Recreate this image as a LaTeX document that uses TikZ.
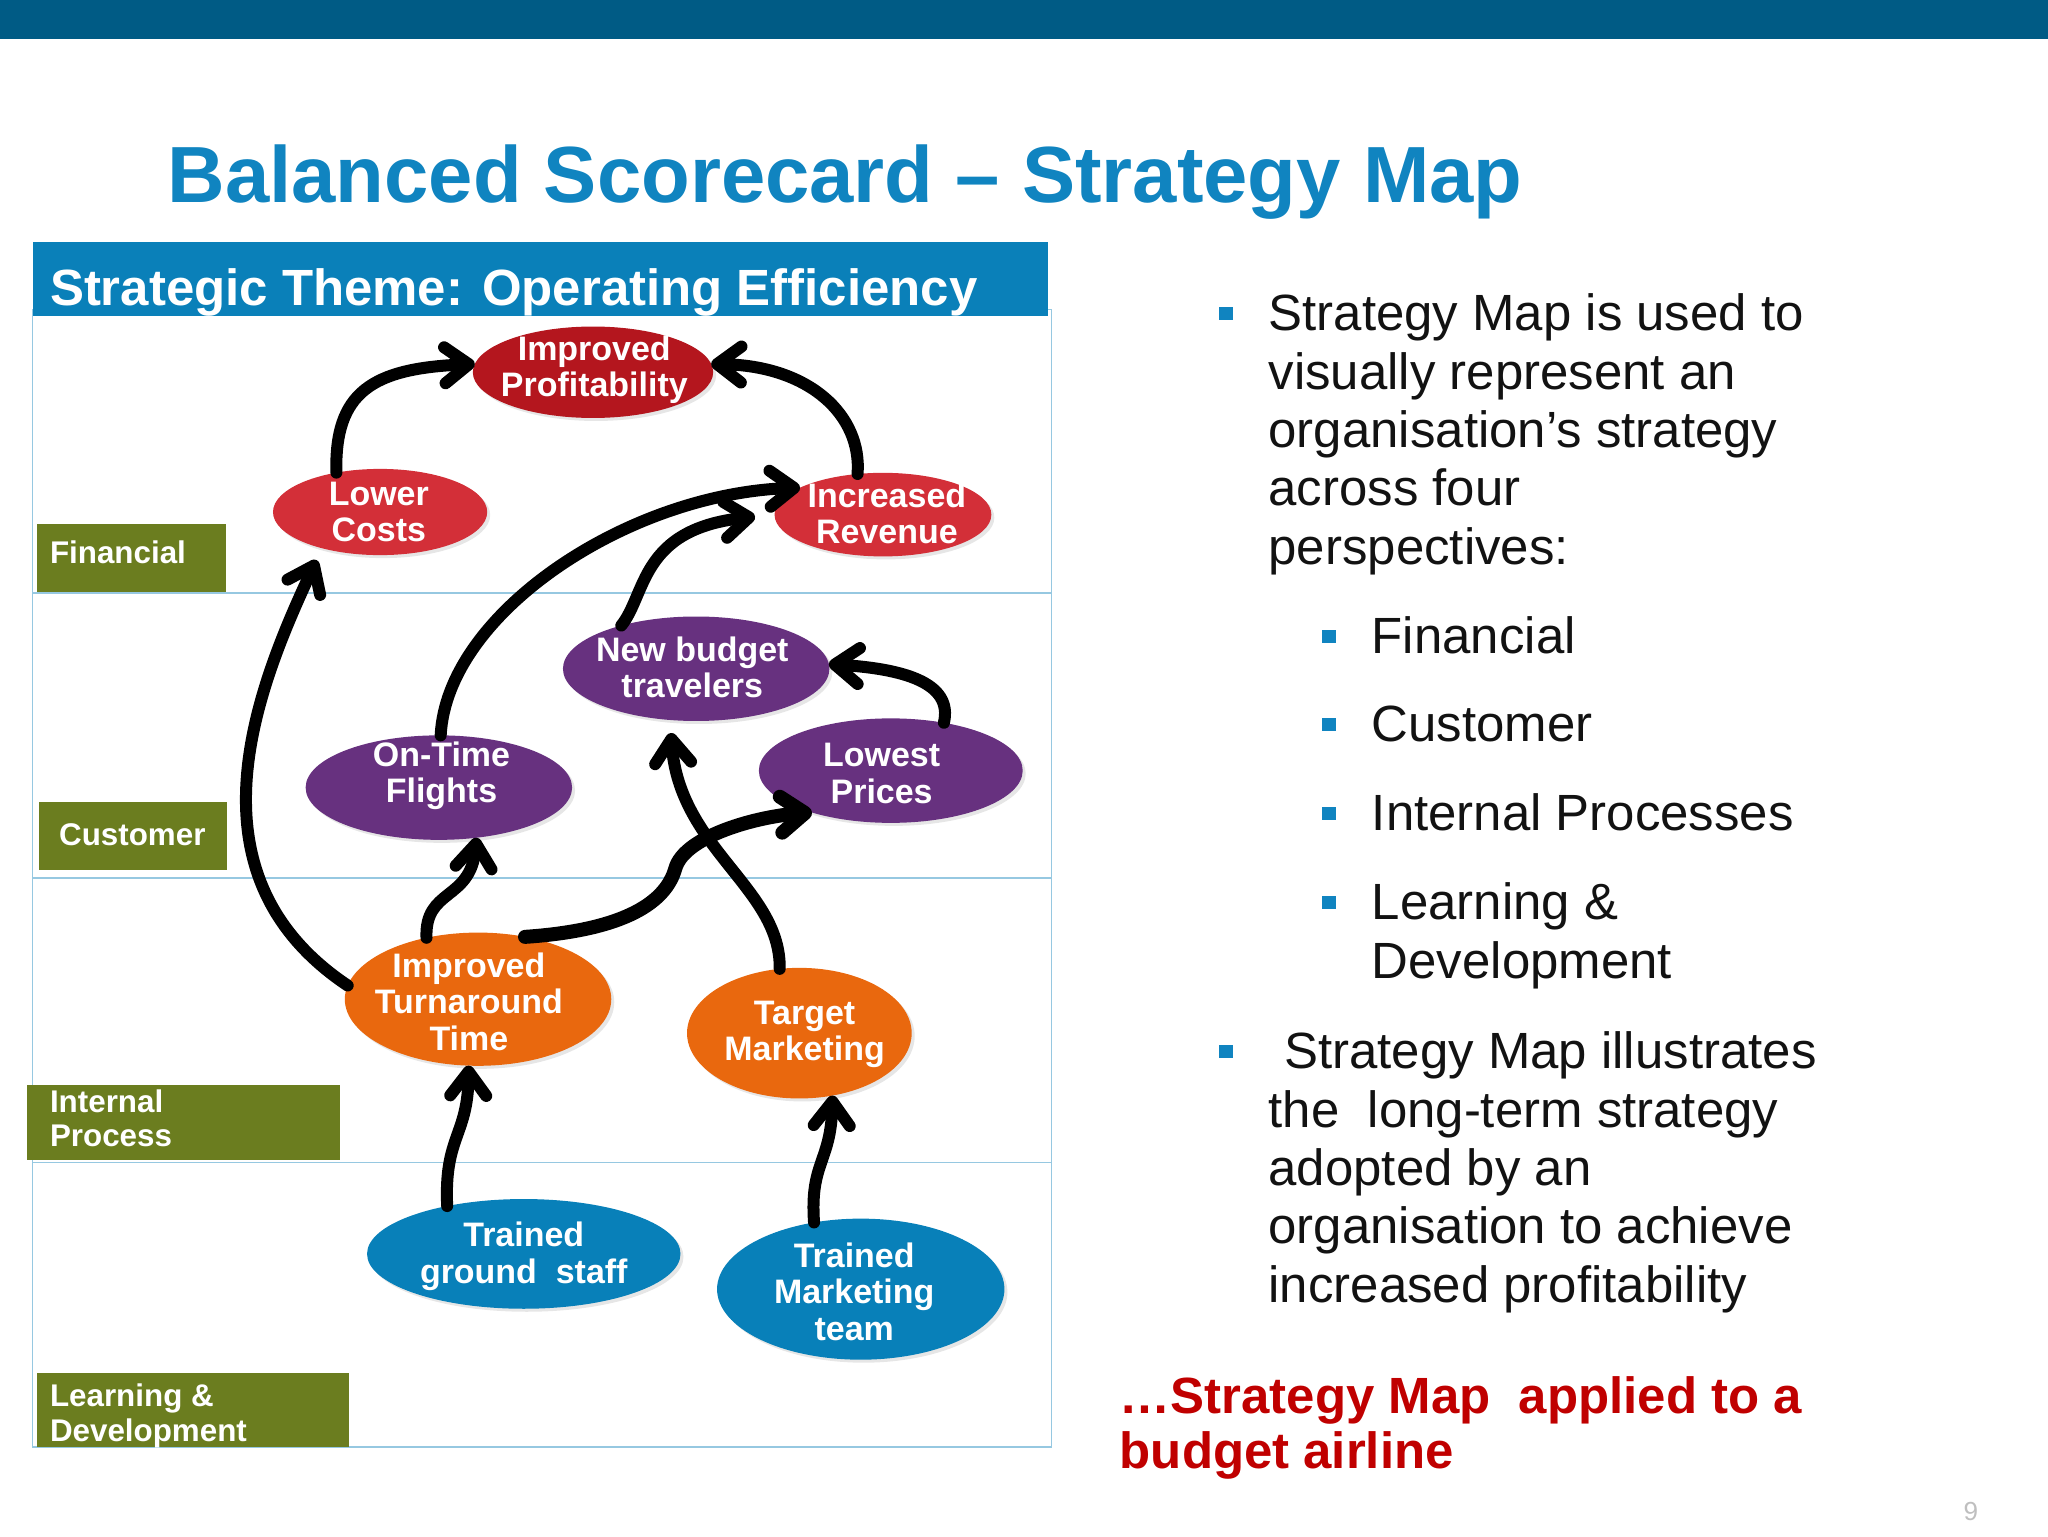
\documentclass[tikz,border=0pt]{standalone}
\usepackage{fontspec}
\setmainfont{Liberation Sans}
\usetikzlibrary{arrows.meta,shapes.geometric,shadows}
\newlength\pxu
\setlength\pxu{0.65306pt}
\definecolor{topbar}{RGB}{0,91,133}
\definecolor{titleblue}{RGB}{16,132,192}
\definecolor{themeblue}{RGB}{10,128,185}
\definecolor{olive}{RGB}{107,125,31}
\definecolor{framec}{RGB}{150,200,225}
\definecolor{darkred}{RGB}{180,22,30}
\definecolor{mred}{RGB}{211,47,56}
\definecolor{mpurple}{RGB}{103,49,127}
\definecolor{morange}{RGB}{233,104,14}
\definecolor{mblue}{RGB}{8,128,185}
\definecolor{redtext}{RGB}{192,0,0}
\tikzset{
  ell/.style={ellipse, inner sep=0, outer sep=0, draw=none,
    drop shadow={opacity=0.2, shadow xshift=1.5pt, shadow yshift=-1.5pt}},
  etext/.style={text=white, font=\bfseries\fontsize{26\pxu}{28\pxu}\selectfont, align=center, inner sep=0},
  lab/.style={fill=olive},
  labtext/.style={text=white, font=\bfseries\fontsize{24\pxu}{26\pxu}\selectfont, align=left, inner sep=0},
  rtext/.style={font=\fontsize{39\pxu}{44.75\pxu}\selectfont, align=left, inner sep=0, text=black!93},
  bul/.style={fill=titleblue},
  conn/.style={draw=black, line cap=round, line join=round, -{Straight Barb[length=12pt,width=18pt,round]}, line width=6pt}
}
\begin{document}
\begin{tikzpicture}[x=0.65306pt, y=-0.65306pt]
\useasboundingbox (0,0) rectangle (1568,1176);
% top bar and title
\fill[topbar] (0,0) rectangle (1568,30);
\node[anchor=base west, inner sep=0, text=titleblue, font=\bfseries\fontsize{61\pxu}{70\pxu}\selectfont] (title) at (128,155) {Balanced Scorecard – Strategy Map};
% frame
\draw[framec, line width=1.2\pxu] (25,237) rectangle (805,1108);
\draw[framec, line width=1.2\pxu] (25,454) -- (805,454);
\draw[framec, line width=1.2\pxu] (25,672) -- (805,672);
\draw[framec, line width=1.2\pxu] (25,890) -- (805,890);
\fill[themeblue] (25,185) rectangle (802,242);
\node[anchor=base west, inner sep=0, text=white, font=\bfseries\fontsize{39\pxu}{44\pxu}\selectfont] (theme) at (38,234) {Strategic Theme: Operating Efficiency};
% perspective labels
\fill[lab] (28,401) rectangle (173,453);
\node[labtext, anchor=base west] (lfin) at (38,431.5) {Financial};
\fill[lab] (30,614) rectangle (174,666);
\node[labtext, anchor=base west] (lcus) at (45,647.5) {Customer};
\fill[lab] (21,831) rectangle (260,888);
\node[labtext, anchor=north west] (lint) at (38,833.3) {\strut Internal\\\strut Process};
\fill[lab] (28,1051) rectangle (267,1108);
\node[labtext, anchor=north west, font=\bfseries\fontsize{24\pxu}{27\pxu}\selectfont] (llrn) at (38,1057.6) {\strut Learning \&\\\strut Development};
% ellipses
\node[ell, fill=darkred, minimum width=184\pxu, minimum height=70\pxu] (ip) at (454,285) {};
\node[ell, fill=mred, minimum width=164\pxu, minimum height=66\pxu] (lc) at (291,392) {};
\node[ell, fill=mred, minimum width=166\pxu, minimum height=64\pxu] (ir) at (676,394) {};
\node[ell, fill=mpurple, minimum width=204\pxu, minimum height=80\pxu] (nbt) at (533,512) {};
\node[ell, fill=mpurple, minimum width=204\pxu, minimum height=80\pxu] (otf) at (336,603) {};
\node[ell, fill=mpurple, minimum width=202\pxu, minimum height=80\pxu] (lp) at (682,590) {};
\node[ell, fill=morange, minimum width=204\pxu, minimum height=102\pxu] (itt) at (366,765) {};
\node[ell, fill=morange, minimum width=172\pxu, minimum height=100\pxu] (tm) at (612,791) {};
\node[ell, fill=mblue, minimum width=240\pxu, minimum height=84\pxu] (tgs) at (401,960) {};
\node[ell, fill=mblue, minimum width=220\pxu, minimum height=108\pxu] (tmt) at (659,987) {};
% connectors
\draw[conn] (lc.138) .. controls (256,300) and (285,282) .. (ip.176);
\draw[conn] (ir.122) .. controls (660,318) and (620,280) .. (ip.4);
\draw[conn] (otf.88) .. controls (342,470) and (480,378) .. (ir.162);
\draw[conn, shorten >=15\pxu] (nbt.150) .. controls (495,455) and (490,405) .. (ir.west);
\draw[conn, shorten >=10\pxu] (itt.174) .. controls (140,670) and (195,530) .. (lc.212);
\draw[conn] (itt.130) .. controls (325,680) and (360,690) .. (otf.307);
\draw[conn, line width=7pt] (itt.53) .. controls (480,712) and (510,690) .. (517,665) .. controls (524,640) and (580,625) .. (lp.208);
\draw[conn, shorten >=10\pxu] (tm.107) .. controls (598,680) and (520,650) .. (nbt.243);
\draw[conn] (lp.42) .. controls (730,522) and (690,512) .. (nbt.2);
\draw[conn] (tgs.148) .. controls (340,870) and (358,870) .. (itt.262);
\draw[conn] (tmt.125) .. controls (620,890) and (636,890) .. (tm.298);
% ellipse texts
\node[etext] (ip-t) at (455,283) {Improved\\Profitability};
\node[etext] (lc-t) at (290,392) {Lower\\Costs};
\node[etext] (ir-t) at (679,393) {Increased\\Revenue};
\node[etext] (nbt-t) at (530,511) {New budget\\travelers};
\node[etext] (otf-t) at (338,594) {On-Time\\Flights};
\node[etext] (lp-t) at (675,592) {Lowest\\Prices};
\node[etext] (itt-t) at (359,767) {Improved\\Turnaround\\Time};
\node[etext] (tm-t) at (616,792) {Target\\Marketing};
\node[etext] (tgs-t) at (401,962) {Trained\\ground\ \ staff};
\node[etext] (tmt-t) at (654,989) {Trained\\Marketing\\team};
% right text
\fill[bul] (933,235) rectangle (944,245);
\node[rtext, anchor=north west] (b1) at (971,221.5) {\strut Strategy Map is used to\\\strut visually represent an\\\strut organisation’s strategy\\\strut across four\\\strut perspectives:};
\fill[bul] (1012,482) rectangle (1023,492);
\node[rtext, anchor=base west] (s1) at (1050,500) {Financial};
\fill[bul] (1012,550) rectangle (1023,560);
\node[rtext, anchor=base west] (s2) at (1050,568) {Customer};
\fill[bul] (1012,618) rectangle (1023,628);
\node[rtext, anchor=base west] (s3) at (1050,636) {Internal Processes};
\fill[bul] (1012,686) rectangle (1023,696);
\node[rtext, anchor=north west] (s4) at (1050,672.5) {\strut Learning \&\\\strut Development};
\fill[bul] (933,800) rectangle (944,810);
\node[rtext, anchor=north west] (b2) at (971,786.5) {\strut\hspace*{12\pxu}Strategy Map illustrates\\\strut the\ \ long-term strategy\\\strut adopted by an\\\strut organisation to achieve\\\strut increased profitability};
\node[anchor=north west, inner sep=0, align=left, text=redtext, font=\bfseries\fontsize{39\pxu}{42\pxu}\selectfont] (red) at (857,1052.6) {\strut …Strategy Map\ \ applied to a\\\strut budget airline};
\node[text=black!25, font=\fontsize{20\pxu}{24\pxu}\selectfont, inner sep=0] (pg) at (1509,1157) {9};
\end{tikzpicture}
\end{document}
